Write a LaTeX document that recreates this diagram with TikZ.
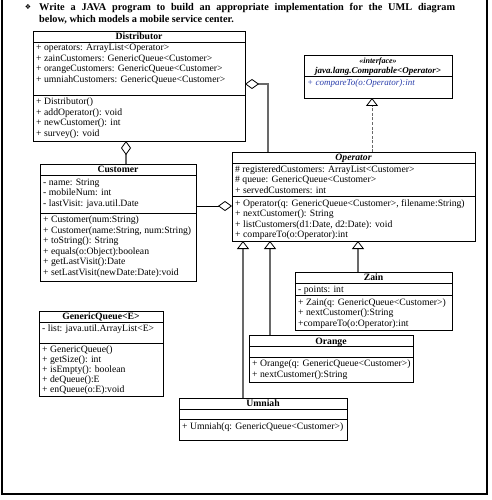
\documentclass[tikz,border=0pt]{standalone}
\usepackage{fontspec}
\setmainfont{Liberation Serif}
\newfontfamily\symfont{DejaVu Sans}
\usetikzlibrary{arrows.meta,fit}
\definecolor{lgray}{RGB}{105,105,105}
\definecolor{ifblue}{RGB}{40,60,170}
\begin{document}
\begin{tikzpicture}[x=1pt,y=-1pt,
  txt/.style={anchor=base west, inner sep=0, font=\fontsize{9.7}{10.5}\selectfont},
  ttl/.style={anchor=base, inner sep=0, font=\fontsize{9.7}{10.5}\selectfont\bfseries},
  umlbox/.style={draw, line width=0.9pt, inner sep=0, outer sep=0},
  sep/.style={line width=0.9pt},
  conn/.style={draw=lgray, line width=1.1pt},
  agg/.style={{Diamond[open,fill=white,length=14pt,width=10pt,line width=0.8pt,color=black]}-},
  aggend/.style={-{Diamond[open,fill=white,length=14pt,width=10pt,line width=0.8pt,color=black]}},
  inh/.style={-{Triangle[open,fill=white,length=8pt,width=12pt,line width=0.8pt,color=black]}},
  hdr/.style={anchor=base west, inner sep=0, font=\fontsize{10.3}{12}\selectfont\bfseries}]
\useasboundingbox (0,0) rectangle (491,500);
% frame
\draw[line width=2pt] (2,0) -- (2,494) -- (487,494) -- (487,0);
% header
\node[anchor=base, inner sep=0, font=\symfont\fontsize{7}{7}\selectfont] (bul) at (28,10) {❖};
\node[hdr] (h1) at (39,10.5) {\makebox[416pt][s]{Write a JAVA program to build an appropriate implementation for the UML diagram}};
\node[hdr] (h2) at (39,22.5) {below, which models a mobile service center.};

% Distributor
\node[umlbox, fit={(33,31) (245,141)}] (dist) {};
\draw[sep] (33,42) -- (245,42);
\draw[sep] (33,95.5) -- (245,95.5);
\node[ttl] at (139,40) {Distributor};
\node[txt] at (36,51) {+ operators: ArrayList<Operator>};
\node[txt] at (36,61.5) {+ zainCustomers: GenericQueue<Customer>};
\node[txt] at (36,72) {+ orangeCustomers: GenericQueue<Customer>};
\node[txt] at (36,82.5) {+ umniahCustomers: GenericQueue<Customer>};
\node[txt] at (36,104.5) {+ Distributor()};
\node[txt] at (36,115) {+ addOperator(): void};
\node[txt] at (36,125.5) {+ newCustomer(): int};
\node[txt] at (36,136) {+ survey(): void};

% Interface
\node[umlbox, fit={(304,55) (452,98)}] (iface) {};
\draw[sep] (304,76.5) -- (452,76.5);
\node[anchor=base, inner sep=0, font=\fontsize{8}{8}\selectfont\bfseries\itshape] at (378,63.5) {<<interface>>};
\node[anchor=base, inner sep=0, font=\fontsize{9}{10}\selectfont\bfseries\itshape] at (378,73.5) {java.lang.Comparable<Operator>};
\node[txt, font=\fontsize{9}{10}\selectfont\itshape, text=ifblue] at (307,86) {+ compareTo(o:Operator):int};

% Customer
\node[umlbox, fit={(40,164) (196,281)}] (cust) {};
\draw[sep] (40,175) -- (196,175);
\draw[sep] (40,213) -- (196,213);
\node[ttl] at (118,172.5) {Customer};
\node[txt] at (43,185) {- name: String};
\node[txt] at (43,195.5) {- mobileNum: int};
\node[txt] at (43,206) {- lastVisit: java.util.Date};
\node[txt] at (43,222.5) {+ Customer(num:String)};
\node[txt] at (43,233) {+ Customer(name:String, num:String)};
\node[txt] at (43,243.5) {+ toString(): String};
\node[txt] at (43,254) {+ equals(o:Object):boolean};
\node[txt] at (43,264.5) {+ getLastVisit():Date};
\node[txt] at (43,275) {+ setLastVisit(newDate:Date):void};

% Operator
\node[umlbox, fit={(232,152) (475,241)}] (op) {};
\draw[sep] (232,163) -- (475,163);
\draw[sep] (232,196.5) -- (475,196.5);
\node[ttl, font=\fontsize{9.7}{10.5}\selectfont\bfseries\itshape] at (353.5,160.5) {Operator};
\node[txt] at (235,172) {\# registeredCustomers: ArrayList<Customer>};
\node[txt] at (235,182.5) {\# queue: GenericQueue<Customer>};
\node[txt] at (235,193) {+ servedCustomers: int};
\node[txt] at (235,206) {+ Operator(q: GenericQueue<Customer>, filename:String)};
\node[txt] at (235,216.5) {+ nextCustomer(): String};
\node[txt] at (235,227) {+ listCustomers(d1:Date, d2:Date): void};
\node[txt] at (235,237.5) {+ compareTo(o:Operator):int};

% Zain
\node[umlbox, fit={(295,272) (452,330)}] (zain) {};
\draw[sep] (295,283) -- (452,283);
\draw[sep] (295,295.5) -- (452,295.5);
\node[ttl] at (373.5,280.5) {Zain};
\node[txt] at (298,292) {- points: int};
\node[txt] at (298,305) {+ Zain(q: GenericQueue<Customer>)};
\node[txt] at (298,315.5) {+ nextCustomer():String};
\node[txt] at (298,326) {+compareTo(o:Operator):int};

% Orange
\node[umlbox, fit={(249,335) (413,382)}] (orange) {};
\draw[sep] (249,346.5) -- (413,346.5);
\draw[sep] (249,357.5) -- (413,357.5);
\node[ttl] at (331,344) {Orange};
\node[txt] at (252,366.5) {+ Orange(q: GenericQueue<Customer>)};
\node[txt] at (252,377) {+ nextCustomer():String};

% Umniah
\node[umlbox, fit={(179,398) (347,440)}] (umn) {};
\draw[sep] (179,409) -- (347,409);
\draw[sep] (179,419.5) -- (347,419.5);
\node[ttl] at (263,406.5) {Umniah};
\node[txt] at (182,429) {+ Umniah(q: GenericQueue<Customer>)};

% GenericQueue
\node[umlbox, fit={(39,311) (163,396)}] (gq) {};
\draw[sep] (39,322) -- (163,322);
\draw[sep] (39,343) -- (163,343);
\node[ttl] at (101,319.5) {GenericQueue<E>};
\node[txt] at (42,331) {- list: java.util.ArrayList<E>};
\node[txt] at (42,352) {+ GenericQueue()};
\node[txt] at (42,362) {+ getSize(): int};
\node[txt] at (42,372) {+ isEmpty(): boolean};
\node[txt] at (42,382) {+ deQueue():E};
\node[txt] at (42,392) {+ enQueue(o:E):void};

% connectors
\coordinate (opk) at ([xshift=36pt]op.north west);
\coordinate (dk) at ([yshift=-53pt]dist.north east);
\draw[conn, agg] (dk) -| (opk);
\coordinate (ck) at ([xshift=86pt]cust.north west);
\draw[conn, agg] (dist.south -| ck) -- (ck);
\coordinate (ok) at ([yshift=-54pt]op.north west);
\draw[line width=0.9pt, aggend] (cust.east |- ok) -- (ok);
\coordinate (zt) at ([xshift=63pt]zain.north west);
\draw[conn, inh] (zt) -- (zt |- op.south);
\coordinate (ot) at ([xshift=21pt]orange.north west);
\draw[conn, inh] (ot) -- (ot |- op.south);
\coordinate (ut) at ([xshift=64pt]umn.north west);
\draw[conn, inh] (ut) -- (ut |- op.south);
\coordinate (it) at ([xshift=68pt]iface.south west);
\draw[conn, line width=0.9pt, dash pattern=on 3pt off 1.5pt, inh] (it |- op.north) -- (it);
\end{tikzpicture}
\end{document}
